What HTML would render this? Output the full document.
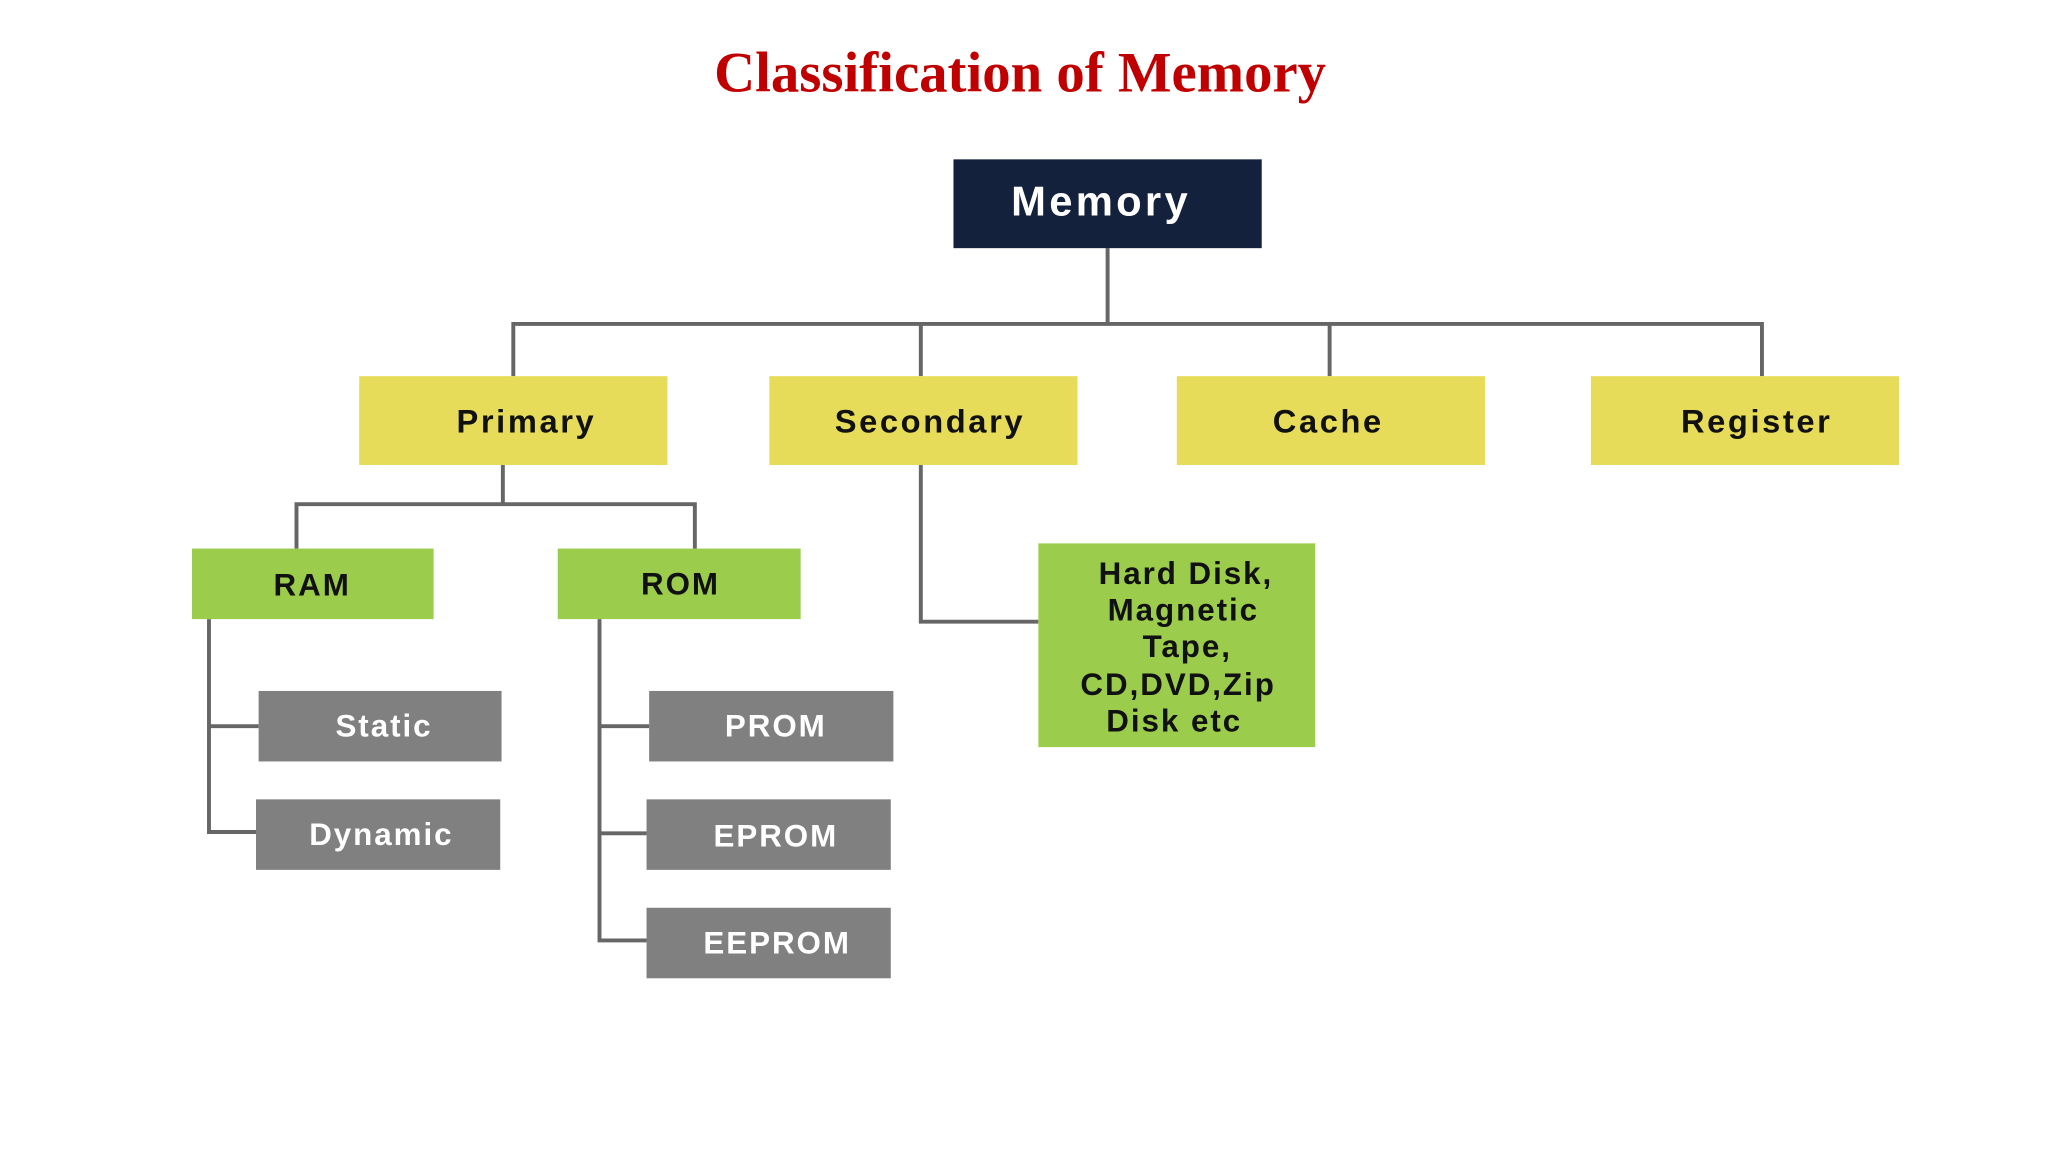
<!DOCTYPE html>
<html><head><meta charset="utf-8"><style>
html,body{margin:0;padding:0;background:#fff;}
svg{display:block;}
text{font-family:"Liberation Sans",sans-serif;font-weight:bold;}
</style></head><body>
<svg width="2048" height="1152" viewBox="0 0 1568 882" xmlns="http://www.w3.org/2000/svg">
<rect width="1568" height="882" fill="#fff"/>
<text x="781" y="70" text-anchor="middle" style="font-family:'Liberation Serif',serif;font-weight:bold;font-size:43.5px" fill="#c00000">Classification of Memory</text>
<g stroke="#666" stroke-width="3" fill="none">
<path d="M848 190V248M393 288V248H1349V288M705 248V288M1018 248V288"/>
<path d="M385 356V386M227 420V386H532V420"/>
<path d="M705 356V476H795"/>
<path d="M160 474V637H196M160 556H198"/>
<path d="M459 474V720H495M459 556H497M459 638H495"/>
</g>
<rect x="730" y="122" width="236" height="68" fill="#14213d"/>
<text x="843" y="165" text-anchor="middle" font-size="32" letter-spacing="2.5" fill="#fff">Memory</text>
<g fill="#e6dc5a">
<rect x="275" y="288" width="236" height="68"/><rect x="589" y="288" width="236" height="68"/>
<rect x="901" y="288" width="236" height="68"/><rect x="1218" y="288" width="236" height="68"/>
</g>
<g font-size="25" fill="#111" text-anchor="middle" letter-spacing="2">
<text x="403" y="331">Primary</text><text x="712" y="331">Secondary</text>
<text x="1017" y="331">Cache</text><text x="1345" y="331">Register</text>
</g>
<g fill="#9ccc4c">
<rect x="147" y="420" width="185" height="54"/><rect x="427" y="420" width="186" height="54"/>
<rect x="795" y="416" width="212" height="156"/>
</g>
<g font-size="24" fill="#111" text-anchor="middle" letter-spacing="1.5">
<text x="239" y="456">RAM</text><text x="521" y="455">ROM</text>
<text x="908" y="447">Hard Disk,</text><text x="906" y="475">Magnetic</text>
<text x="909" y="503">Tape,</text><text x="902" y="532">CD,DVD,Zip</text><text x="899" y="560">Disk etc</text>
</g>
<g fill="#808080">
<rect x="198" y="529" width="186" height="54"/><rect x="196" y="612" width="187" height="54"/>
<rect x="497" y="529" width="187" height="54"/><rect x="495" y="612" width="187" height="54"/>
<rect x="495" y="695" width="187" height="54"/>
</g>
<g font-size="24" fill="#fff" text-anchor="middle" letter-spacing="1.5">
<text x="294" y="564">Static</text><text x="292" y="647">Dynamic</text>
<text x="594" y="564">PROM</text><text x="594" y="648">EPROM</text><text x="595" y="730">EEPROM</text>
</g>
</svg>
</body></html>
